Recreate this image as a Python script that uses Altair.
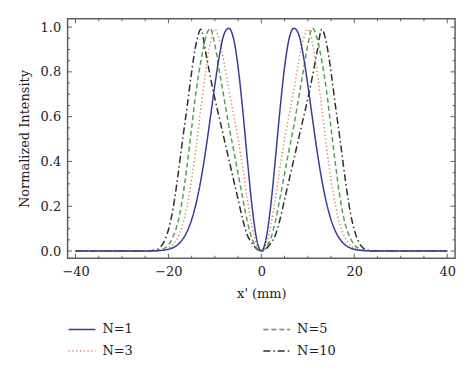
import altair as alt
import pandas as pd

# x' positions (mm)
x_pos = [-40, -30,
         -25, -24, -23, -22, -21, -20, -19, -18, -17, -16, -15, -14, -13,
         -12, -11, -10, -9, -8, -7, -6, -5, -4, -3, -2, -1,
         0,
         1, 2, 3, 4, 5, 6, 7, 8, 9, 10, 11, 12, 13,
         14, 15, 16, 17, 18, 19, 20, 21, 22, 23, 24, 25,
         30, 40]

n1 = [0, 0,
      0, 0, 0.001, 0.002, 0.004, 0.008, 0.015, 0.028, 0.051, 0.086, 0.140, 0.217, 0.319,
      0.446, 0.592, 0.742, 0.876, 0.970, 0.995, 0.950, 0.821, 0.628, 0.406, 0.199, 0.053,
      0,
      0.053, 0.199, 0.406, 0.628, 0.821, 0.950, 0.995, 0.970, 0.876, 0.742, 0.592, 0.446, 0.319,
      0.217, 0.140, 0.086, 0.051, 0.028, 0.015, 0.008, 0.004, 0.002, 0.001, 0, 0,
      0, 0]

n3 = [0, 0,
      0, 0, 0.001, 0.002, 0.005, 0.012, 0.028, 0.06, 0.115, 0.20, 0.32, 0.47, 0.64,
      0.80, 0.93, 0.99, 0.94, 0.84, 0.72, 0.61, 0.50, 0.37, 0.23, 0.11, 0.03,
      0,
      0.03, 0.11, 0.23, 0.37, 0.50, 0.61, 0.72, 0.84, 0.94, 0.99, 0.93, 0.80, 0.64,
      0.47, 0.32, 0.20, 0.115, 0.06, 0.028, 0.012, 0.005, 0.002, 0.001, 0, 0,
      0, 0]

n5 = [0, 0,
      0, 0, 0.001, 0.004, 0.011, 0.028, 0.065, 0.125, 0.23, 0.38, 0.55, 0.72, 0.85,
      0.95, 0.995, 0.92, 0.80, 0.68, 0.56, 0.455, 0.345, 0.235, 0.13, 0.055, 0.015,
      0,
      0.015, 0.055, 0.13, 0.235, 0.345, 0.455, 0.56, 0.68, 0.80, 0.92, 0.995, 0.95, 0.85,
      0.72, 0.55, 0.38, 0.23, 0.125, 0.065, 0.028, 0.011, 0.004, 0.001, 0, 0,
      0, 0]

n10 = [0, 0,
       0, 0.001, 0.004, 0.012, 0.04, 0.095, 0.19, 0.33, 0.49, 0.64, 0.80, 0.93, 0.99,
       0.89, 0.78, 0.68, 0.59, 0.50, 0.41, 0.32, 0.23, 0.14, 0.07, 0.035, 0.01,
       0,
       0.01, 0.035, 0.07, 0.14, 0.23, 0.32, 0.41, 0.50, 0.59, 0.68, 0.78, 0.89, 0.99,
       0.93, 0.80, 0.64, 0.49, 0.33, 0.19, 0.095, 0.04, 0.012, 0.004, 0.001, 0,
       0, 0]

series_names = ["N=1", "N=3", "N=5", "N=10"]
series_colors = ["#3b3b96", "#d4805a", "#55a055", "#2e2e2e"]
series_dash = [[1, 0], [1.2, 2.6], [5, 3], [7, 3, 1.5, 3]]

x_ticks = [-40, -35, -30, -25, -20, -15, -10, -5, 0, 5, 10, 15, 20, 25, 30, 35, 40]
x_labels = [-40, -20, 0, 20, 40]
y_ticks = [0, 0.05, 0.1, 0.15, 0.2, 0.25, 0.3, 0.35, 0.4, 0.45, 0.5,
           0.55, 0.6, 0.65, 0.7, 0.75, 0.8, 0.85, 0.9, 0.95, 1.0]
y_labels = [0, 0.2, 0.4, 0.6, 0.8, 1.0]

for arr in (n1, n3, n5, n10):
    assert len(arr) == len(x_pos)

rows = []
for name, vals in [("N=10", n10), ("N=5", n5), ("N=3", n3), ("N=1", n1)]:
    for xv, yv in zip(x_pos, vals):
        rows.append({"x": xv, "y": yv, "series": name})
df = pd.DataFrame(rows)

W, H = 390, 241
FONT = "DejaVu Serif"
FRAME = "#606060"

xscale = alt.Scale(domain=[-41.7, 41.7], nice=False, zero=False)
yscale = alt.Scale(domain=[-0.032, 1.037], nice=False, zero=False)

legend_kw = dict(title=None, orient="none", legendX=0, legendY=298,
                 columns=2, columnPadding=128, rowPadding=0,
                 symbolType="stroke", symbolSize=729, symbolStrokeWidth=1.5,
                 labelFont=FONT, labelFontSize=13, labelColor="#222",
                 labelOffset=6, padding=0)

lines = alt.Chart(df).mark_line(strokeWidth=1.5, interpolate="monotone").encode(
    x=alt.X("x:Q", scale=xscale,
            axis=alt.Axis(values=x_labels, ticks=False, domain=False, grid=False,
                          labelFont=FONT, labelFontSize=13, labelColor="#222",
                          labelPadding=7, title="x' (mm)", titleFont=FONT,
                          titleFontSize=13, titleFontWeight="normal",
                          titleColor="#222", titlePadding=10)),
    y=alt.Y("y:Q", scale=yscale,
            axis=alt.Axis(values=y_labels, format=".1f", ticks=False, domain=False,
                          grid=False, labelFont=FONT, labelFontSize=13,
                          labelColor="#222", labelPadding=7,
                          title="Normalized Intensity", titleFont=FONT,
                          titleFontSize=13, titleFontWeight="normal",
                          titleColor="#222", titlePadding=9)),
    color=alt.Color("series:N",
                    scale=alt.Scale(domain=series_names, range=series_colors),
                    legend=alt.Legend(**legend_kw)),
    strokeDash=alt.StrokeDash("series:N",
                              scale=alt.Scale(domain=series_names, range=series_dash),
                              legend=alt.Legend(**legend_kw)),
)

xt_major = pd.DataFrame({"x": [v for v in x_ticks if v in x_labels]})
xt_minor = pd.DataFrame({"x": [v for v in x_ticks if v not in x_labels]})
yt_major = pd.DataFrame({"y": [v for v in y_ticks if v in y_labels]})
yt_minor = pd.DataFrame({"y": [v for v in y_ticks if v not in y_labels]})


def xrule(data, y0, y1):
    return alt.Chart(data).mark_rule(color=FRAME, strokeWidth=1).encode(
        x=alt.X("x:Q", scale=xscale),
        y=alt.value(y0), y2=alt.value(y1))


def yrule(data, x0, x1):
    return alt.Chart(data).mark_rule(color=FRAME, strokeWidth=1).encode(
        y=alt.Y("y:Q", scale=yscale),
        x=alt.value(x0), x2=alt.value(x1))


ticks = [
    xrule(xt_major, H, H - 4.5), xrule(xt_minor, H, H - 2.5),
    xrule(xt_major, 0, 4.5), xrule(xt_minor, 0, 2.5),
    yrule(yt_major, 0, 4.5), yrule(yt_minor, 0, 2.5),
    yrule(yt_major, W, W - 4.5), yrule(yt_minor, W, W - 2.5),
]

chart = alt.layer(lines, *ticks).properties(
    width=W, height=H,
    padding={"left": 10, "top": 8.7, "right": 10, "bottom": 5},
).configure(background="white", font=FONT).configure_view(
    stroke=FRAME, strokeWidth=1.5)

chart.save("out.html", embed_options={"renderer": "svg", "actions": False})
